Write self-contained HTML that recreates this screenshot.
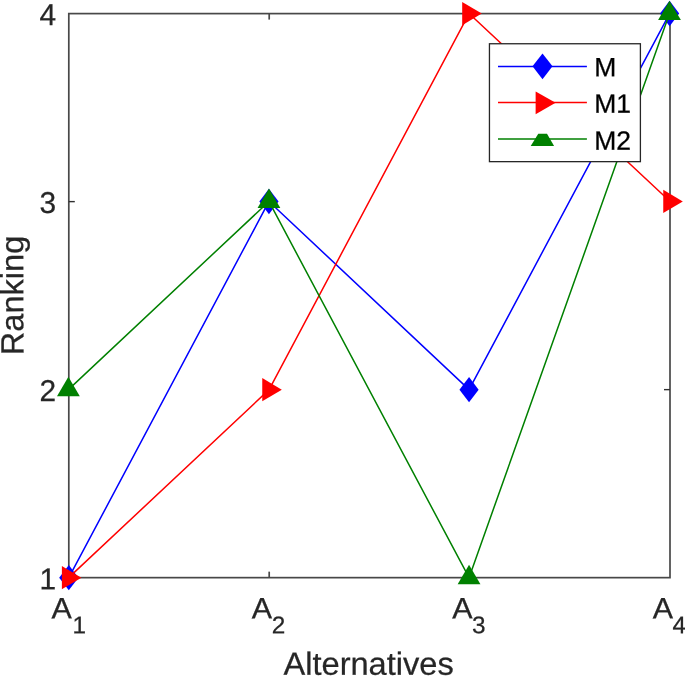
<!DOCTYPE html>
<html lang="en"><head><meta charset="utf-8"><title>Ranking of Alternatives</title>
<style>
html,body{margin:0;padding:0;background:#fff;}
body{width:685px;height:676px;overflow:hidden;}
svg{display:block;}
text{font-family:"Liberation Sans",Arial,Helvetica,sans-serif;fill:#262626;stroke:#262626;stroke-width:0.25px;}
.tk{font-size:29px;}
.sb{font-size:23.4px;}
.lb{font-size:32.6px;}
.lg{font-size:26.5px;fill:#000;stroke:#000;}
</style></head><body>
<svg width="685" height="676" viewBox="0 0 685 676">
<rect x="0" y="0" width="685" height="676" fill="#ffffff"/>
<g stroke="#484848" stroke-width="1.7" fill="none">
<rect x="68.8" y="13.6" width="601.20" height="564.05"/>
<line x1="269.20" y1="577.65" x2="269.20" y2="571.65"/>
<line x1="269.20" y1="13.6" x2="269.20" y2="19.6"/>
<line x1="469.60" y1="577.65" x2="469.60" y2="571.65"/>
<line x1="469.60" y1="13.6" x2="469.60" y2="19.6"/>
<line x1="68.8" y1="389.63" x2="74.8" y2="389.63" stroke="#303030" stroke-width="1.4"/>
<line x1="670.0" y1="389.63" x2="664.0" y2="389.63" stroke="#303030" stroke-width="1.4"/>
<line x1="68.8" y1="201.62" x2="74.8" y2="201.62" stroke="#303030" stroke-width="1.4"/>
<line x1="670.0" y1="201.62" x2="664.0" y2="201.62" stroke="#303030" stroke-width="1.4"/>
</g>
<text class="tk" transform="translate(56.0,589.15) rotate(0.03) scale(1.03,1.04)" text-anchor="end">1</text>
<text class="tk" transform="translate(56.0,401.13) rotate(0.03) scale(1.03,1.04)" text-anchor="end">2</text>
<text class="tk" transform="translate(56.0,213.12) rotate(0.03) scale(1.03,1.04)" text-anchor="end">3</text>
<text class="tk" transform="translate(56.0,25.10) rotate(0.03) scale(1.03,1.04)" text-anchor="end">4</text>
<text class="tk" transform="translate(61.60,618.3) rotate(0.03) scale(1.05,1.01)" text-anchor="middle">A</text>
<text class="sb" transform="translate(72.40,633.3) rotate(0.03) scale(1.04,1.03)">1</text>
<text class="tk" transform="translate(262.00,618.3) rotate(0.03) scale(1.05,1.01)" text-anchor="middle">A</text>
<text class="sb" transform="translate(271.70,633.3) rotate(0.03) scale(1.04,1.03)">2</text>
<text class="tk" transform="translate(462.40,618.3) rotate(0.03) scale(1.05,1.01)" text-anchor="middle">A</text>
<text class="sb" transform="translate(472.10,633.3) rotate(0.03) scale(1.04,1.03)">3</text>
<text class="tk" transform="translate(662.80,618.3) rotate(0.03) scale(1.05,1.01)" text-anchor="middle">A</text>
<text class="sb" transform="translate(672.40,633.3) rotate(0.03) scale(1.04,1.03)">4</text>
<text class="lb" transform="translate(368.6,674.8) rotate(0.03) scale(1,0.985)" text-anchor="middle">Alternatives</text>
<text class="lb" transform="translate(23.35,295.45) rotate(-90.03) scale(1,0.985)" text-anchor="middle">Ranking</text>
<polyline points="68.80,577.65 268.95,201.45 469.05,389.65 669.60,13.55" fill="none" stroke="#0000ff" stroke-width="1.5" stroke-linejoin="round"/>
<polygon points="59.20,577.65 68.80,564.95 78.40,577.65 68.80,590.35" fill="#0000ff"/>
<polygon points="259.35,201.45 268.95,188.75 278.55,201.45 268.95,214.15" fill="#0000ff"/>
<polygon points="459.45,389.65 469.05,376.95 478.65,389.65 469.05,402.35" fill="#0000ff"/>
<polygon points="660.00,13.55 669.60,0.85 679.20,13.55 669.60,26.25" fill="#0000ff"/>
<polyline points="68.70,577.65 269.10,389.65 469.05,13.55 670.10,201.45" fill="none" stroke="#ff0000" stroke-width="1.5" stroke-linejoin="round"/>
<polygon points="61.85,566.05 81.40,577.65 61.85,589.25" fill="#ff0000"/>
<polygon points="262.25,378.05 281.80,389.65 262.25,401.25" fill="#ff0000"/>
<polygon points="462.20,1.95 481.75,13.55 462.20,25.15" fill="#ff0000"/>
<polygon points="663.25,189.85 682.80,201.45 663.25,213.05" fill="#ff0000"/>
<polyline points="68.40,389.65 268.95,201.45 469.05,577.65 669.50,13.55" fill="none" stroke="#008000" stroke-width="1.5" stroke-linejoin="round"/>
<polygon points="57.00,396.15 68.40,376.75 79.80,396.15" fill="#008000"/>
<polygon points="257.55,207.95 268.95,188.55 280.35,207.95" fill="#008000"/>
<polygon points="457.65,584.15 469.05,564.75 480.45,584.15" fill="#008000"/>
<polygon points="658.10,20.05 669.50,0.65 680.90,20.05" fill="#008000"/>
<rect x="489.45" y="43.75" width="150.95" height="117.90" fill="#ffffff" stroke="#262626" stroke-width="1.3"/>
<line x1="498.0" y1="66.45" x2="586.9" y2="66.45" stroke="#0000ff" stroke-width="1.5"/>
<line x1="498.0" y1="102.5" x2="586.9" y2="102.5" stroke="#ff0000" stroke-width="1.5"/>
<line x1="498.0" y1="138.9" x2="586.9" y2="138.9" stroke="#008000" stroke-width="1.5"/>
<polygon points="532.50,66.30 542.50,53.40 552.50,66.30 542.50,79.20" fill="#0000ff"/>
<polygon points="535.65,91.55 555.60,102.85 535.65,114.15" fill="#ff0000"/>
<polygon points="530.7,145.9 538.3,133.8 547.0,133.8 554.1,145.9" fill="#008000"/>
<text class="lg" transform="translate(594.2,76.35) rotate(0.03) scale(1,1.0)">M</text>
<text class="lg" transform="translate(594.2,112.7) rotate(0.03) scale(1,1.0)">M1</text>
<text class="lg" transform="translate(594.2,149.65) rotate(0.03) scale(1,1.0)">M2</text>
</svg></body></html>
